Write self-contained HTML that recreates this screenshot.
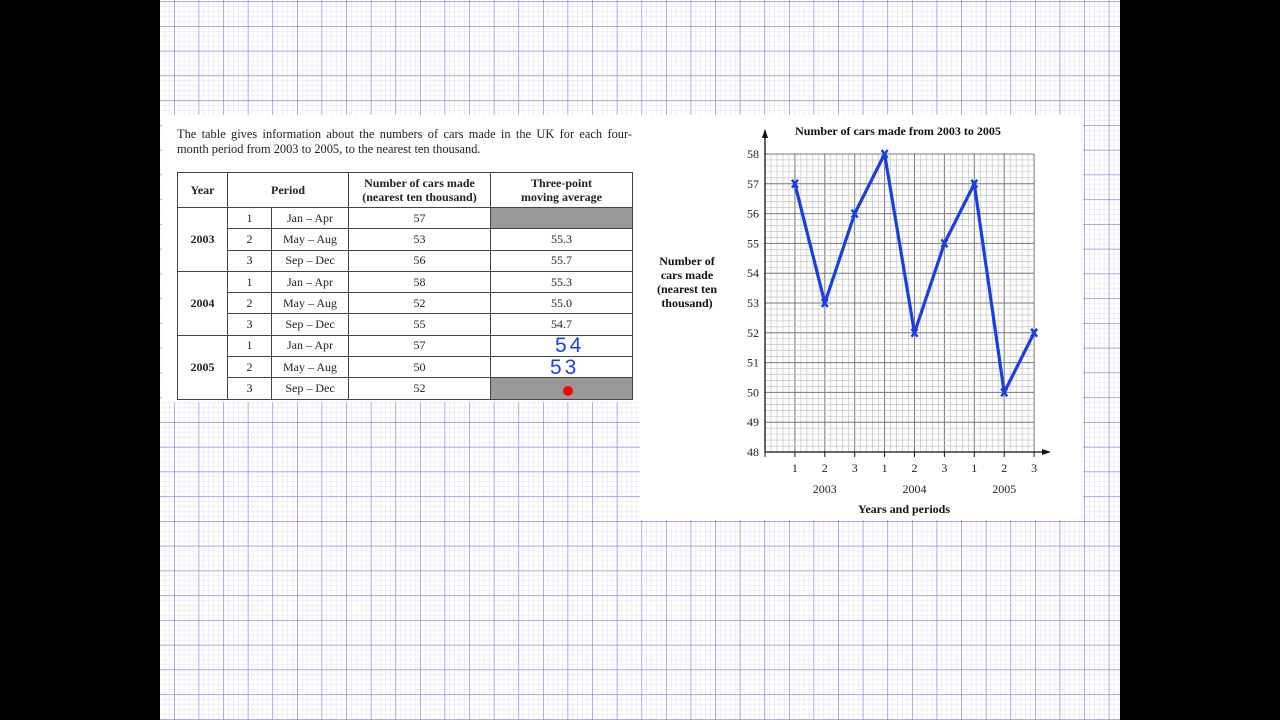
<!DOCTYPE html>
<html><head><meta charset="utf-8"><style>
html,body{margin:0;width:1280px;height:720px;overflow:hidden;background:#000;font-family:"Liberation Serif",serif}
#paper{position:absolute;left:160px;top:0;width:960px;height:720px;background:#fff;overflow:hidden}
.w{position:absolute;background:#fff}
#intro{position:absolute;left:177px;top:127px;width:455px;font-size:12.4px;line-height:15px;color:#222}
#intro span{display:block;text-align:justify;text-align-last:justify;white-space:nowrap}
table{position:absolute;left:177px;top:172px;border-collapse:collapse;font-size:12px;color:#222;table-layout:fixed;width:455px}
td{border:1px solid #444;text-align:center;padding:0;height:20.3px;overflow:hidden;white-space:nowrap}
th{border:1px solid #444;font-weight:bold;height:34px;line-height:14px;padding:0;white-space:nowrap;overflow:hidden}
.g{background:#999}
.hw{position:absolute;color:#1a3cff;font-family:"Liberation Sans",sans-serif;font-size:21px;letter-spacing:3px}
</style></head><body>
<div id="paper">
<svg width="960" height="720"><defs>
<pattern id="mn" x="14" y="1.3" width="4.92" height="4.95" patternUnits="userSpaceOnUse"><path d="M0 0H4.92M0 0V4.95" stroke="#c9cdf2" stroke-width="0.6" fill="none"/></pattern>
<pattern id="mj" x="14" y="1.3" width="24.6" height="24.75" patternUnits="userSpaceOnUse"><path d="M0 0H24.6M0 0V24.75" stroke="#7c7fd6" stroke-width="1.2" fill="none"/></pattern>
</defs><rect width="960" height="720" fill="url(#mn)"/><rect width="960" height="720" fill="url(#mj)"/></svg>
</div>
<div class="w" style="left:162px;top:115px;width:478px;height:287px"></div>
<div class="w" style="left:640px;top:115px;width:443px;height:405px"></div>
<div id="intro"><span>The table gives information about the numbers of cars made in the UK for each four-</span>month period from 2003 to 2005, to the nearest ten thousand.</div>
<table>
<colgroup><col style="width:50px"><col style="width:44px"><col style="width:77px"><col style="width:142px"><col style="width:142px"></colgroup>
<tr><th>Year</th><th colspan="2">Period</th><th>Number of cars made<br>(nearest ten thousand)</th><th>Three-point<br>moving average</th></tr>
<tr><td rowspan="3"><b>2003</b></td><td>1</td><td>Jan – Apr</td><td>57</td><td class="g"></td></tr>
<tr><td>2</td><td>May – Aug</td><td>53</td><td>55.3</td></tr>
<tr><td>3</td><td>Sep – Dec</td><td>56</td><td>55.7</td></tr>
<tr><td rowspan="3"><b>2004</b></td><td>1</td><td>Jan – Apr</td><td>58</td><td>55.3</td></tr>
<tr><td>2</td><td>May – Aug</td><td>52</td><td>55.0</td></tr>
<tr><td>3</td><td>Sep – Dec</td><td>55</td><td>54.7</td></tr>
<tr><td rowspan="3"><b>2005</b></td><td>1</td><td>Jan – Apr</td><td>57</td><td></td></tr>
<tr><td>2</td><td>May – Aug</td><td>50</td><td></td></tr>
<tr><td>3</td><td>Sep – Dec</td><td>52</td><td class="g"></td></tr>
</table>
<div class="hw" style="left:555px;top:334px">54</div>
<div class="hw" style="left:550px;top:356px">53</div>
<div style="position:absolute;left:563px;top:386px;width:10px;height:10px;border-radius:50%;background:#f00"></div>
<svg id="chart" width="1280" height="720" style="position:absolute;left:0;top:0"></svg>
<script>
const periods=["1","2","3","1","2","3","1","2","3"];
const years=["2003","2004","2005"];
const values=[57,53,56,58,52,55,57,50,52];
const yTicks=[48,49,50,51,52,53,54,55,56,57,58];
const svg=document.getElementById('chart');const NS='http://www.w3.org/2000/svg';
const X0=765,Y0=452,UX=29.9,UY=29.8;
const xs=i=>X0+UX*(i+1), ys=v=>Y0-(v-48)*UY;
function mk(t,a,p){const e=document.createElementNS(NS,t);for(const k in a)e.setAttribute(k,a[k]);(p||svg).appendChild(e);return e;}
for(let i=0;i<=45;i++){const x=X0+i*UX/5;if(x>1035)break;const l=mk('line',{x1:x,y1:ys(58),x2:x,y2:Y0,stroke:i%5?'#bbb':'#777','stroke-width':i%5?0.6:1});}
for(let i=0;i<=50;i++){const y=Y0-i*UY/5;const l=mk('line',{x1:X0,y1:y,x2:X0+UX*9,y2:y,stroke:i%5?'#bbb':'#777','stroke-width':i%5?0.6:1});}
const ax=mk('path',{d:`M${X0} ${Y0}V130M${X0} ${Y0}H1045`,stroke:'#111','stroke-width':1.3,fill:'none'});

mk('path',{d:`M${X0-3} 138L${X0} 129L${X0+3} 138Z`,fill:'#111'});
mk('path',{d:`M1042 ${Y0-3}L1051 ${Y0}L1042 ${Y0+3}Z`,fill:'#111'});
yTicks.forEach(v=>{const t=mk('text',{x:X0-6,y:ys(v)+4,'text-anchor':'end','font-size':12,'font-family':'Liberation Serif',fill:'#222'});t.textContent=v;});
periods.forEach((p,i)=>{mk('line',{x1:xs(i),y1:Y0,x2:xs(i),y2:Y0+5,stroke:'#111'});const t=mk('text',{x:xs(i),y:Y0+20,'text-anchor':'middle','font-size':12,'font-family':'Liberation Serif',fill:'#222'});t.textContent=p;});
mk('line',{x1:X0,y1:Y0,x2:X0,y2:Y0+5,stroke:'#111'});
years.forEach((y,i)=>{const t=mk('text',{x:xs(i*3+1),y:Y0+41,'text-anchor':'middle','font-size':12,'font-family':'Liberation Serif',fill:'#222'});t.textContent=y;});
const tt=mk('text',{x:898,y:135,'text-anchor':'middle','font-size':12,'font-weight':'bold','font-family':'Liberation Serif',fill:'#111'});tt.textContent='Number of cars made from 2003 to 2005';

const xt=mk('text',{x:904,y:513,'text-anchor':'middle','font-size':12,'font-weight':'bold','font-family':'Liberation Serif',fill:'#111'});xt.textContent='Years and periods';

['Number of','cars made','(nearest ten','thousand)'].forEach((s,i)=>{const t=mk('text',{x:687,y:265+i*14,'text-anchor':'middle','font-size':12,'font-weight':'bold','font-family':'Liberation Serif',fill:'#111'});t.textContent=s;});
const ln=mk('polyline',{points:values.map((v,i)=>xs(i)+','+ys(v)).join(' '),fill:'none',stroke:'#1a3fe0','stroke-width':3.2,'stroke-linejoin':'round'});

values.forEach((v,i)=>{const x=xs(i),y=ys(v);const m=mk('path',{d:`M${x-3} ${y-4}L${x+3} ${y+4}M${x+3} ${y-4}L${x-3} ${y+4}`,stroke:'#1a3fe0','stroke-width':2.5});});
</script>
</body></html>
